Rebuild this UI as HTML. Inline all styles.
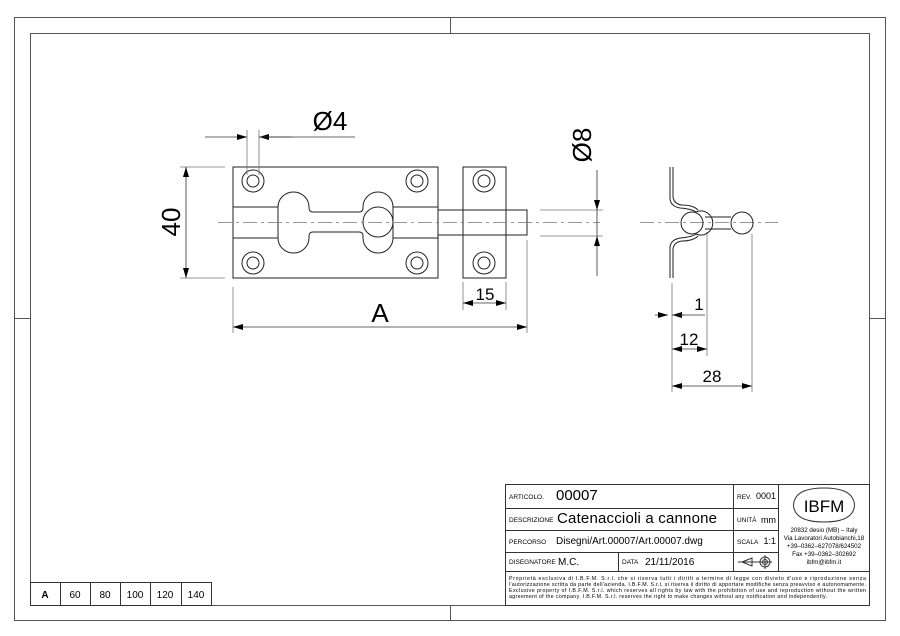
<!DOCTYPE html>
<html><head><meta charset="utf-8"><style>
html,body{margin:0;padding:0;background:#fff}
svg{display:block}
text{font-family:"Liberation Sans",sans-serif;fill:#000}
</style></head><body>
<svg width="900" height="636" viewBox="0 0 900 636" xmlns="http://www.w3.org/2000/svg">
<defs>
<marker id="ar" viewBox="0 0 10 6" refX="10" refY="3" markerWidth="10" markerHeight="6" orient="auto-start-reverse" markerUnits="userSpaceOnUse"><path d="M0,0 L10,3 L0,6 z" fill="#000"/></marker>
</defs>
<g fill="none" stroke="#555" stroke-width="1">
<rect x="14.5" y="17.5" width="871" height="603"/>
<rect x="30.5" y="33.5" width="839" height="572"/>
<line x1="450.5" y1="17" x2="450.5" y2="33"/>
<line x1="450.5" y1="605" x2="450.5" y2="621"/>
<line x1="14" y1="318.5" x2="30" y2="318.5"/>
<line x1="870" y1="318.5" x2="886" y2="318.5"/>
</g>
<g fill="none" stroke="#333" stroke-width="1">
<rect x="30.5" y="582.5" width="181" height="23"/>
<line x1="60.5" y1="582" x2="60.5" y2="606"/><line x1="90.5" y1="582" x2="90.5" y2="606"/>
<line x1="120.5" y1="582" x2="120.5" y2="606"/><line x1="150.5" y1="582" x2="150.5" y2="606"/>
<line x1="181.5" y1="582" x2="181.5" y2="606"/>
</g>
<g font-size="10" text-anchor="middle">
<text x="45" y="598" font-weight="bold">A</text><text x="75" y="598">60</text><text x="105" y="598">80</text>
<text x="135" y="598">100</text><text x="165" y="598">120</text><text x="196" y="598">140</text>
</g>
<g fill="none" stroke="#222" stroke-width="1">
<rect x="233" y="167" width="205" height="111"/>
<rect x="463" y="167" width="43" height="111"/>
<rect x="438" y="210" width="89" height="25"/>
<line x1="233" y1="207" x2="278" y2="207"/><line x1="233" y1="238" x2="278" y2="238"/>
<line x1="393" y1="207" x2="438" y2="207"/><line x1="393" y1="238" x2="438" y2="238"/>
<line x1="278" y1="207" x2="278" y2="238"/>
<path d="M278,207 A15.5,15 0 0 1 309,207 L309,208 Q309,212 313,212 L359,212 Q363,212 363,208 L363,207 A15,15 0 0 1 393,207 L393,238 A15,15 0 0 1 363,238 L363,236 Q363,232 359,232 L313,232 Q309,232 309,236 L309,238 A15.5,15 0 0 1 278,238"/>
<circle cx="378" cy="222" r="15"/>
<circle cx="253" cy="181" r="11"/><circle cx="253" cy="181" r="6"/>
<circle cx="417" cy="181" r="11"/><circle cx="417" cy="181" r="6"/>
<circle cx="253" cy="263" r="11"/><circle cx="253" cy="263" r="6"/>
<circle cx="417" cy="263" r="11"/><circle cx="417" cy="263" r="6"/>
<circle cx="484" cy="181" r="11"/><circle cx="484" cy="181" r="6"/>
<circle cx="484" cy="263" r="11"/><circle cx="484" cy="263" r="6"/>
</g>
<g stroke="#777" stroke-width="0.8" fill="none">
<line x1="218" y1="222.5" x2="600" y2="222.5" stroke-dasharray="14,4,3,4"/>
<line x1="640" y1="222.5" x2="778" y2="222.5" stroke-dasharray="14,4,3,4"/>
<line x1="247" y1="130" x2="247" y2="175"/><line x1="259" y1="130" x2="259" y2="175"/>
<line x1="180" y1="167" x2="225" y2="167"/><line x1="180" y1="278" x2="225" y2="278"/>
<line x1="233" y1="287" x2="233" y2="333"/><line x1="527" y1="240" x2="527" y2="333"/>
<line x1="463" y1="282" x2="463" y2="310"/><line x1="506" y1="282" x2="506" y2="310"/>
<line x1="540" y1="210" x2="603" y2="210"/><line x1="540" y1="236" x2="603" y2="236"/>
<line x1="672" y1="283" x2="672" y2="392"/><line x1="707" y1="232" x2="707" y2="356"/>
<line x1="752" y1="234" x2="752" y2="392"/>
</g>
<g stroke="#333" stroke-width="0.8" fill="none">
<line x1="205" y1="137" x2="247" y2="137" marker-end="url(#ar)"/>
<line x1="292" y1="137" x2="259" y2="137" marker-end="url(#ar)"/>
<line x1="259" y1="137" x2="355" y2="137"/>
<line x1="186" y1="167" x2="186" y2="278" marker-start="url(#ar)" marker-end="url(#ar)"/>
<line x1="233" y1="327" x2="527" y2="327" marker-start="url(#ar)" marker-end="url(#ar)"/>
<line x1="463" y1="303" x2="506" y2="303" marker-start="url(#ar)" marker-end="url(#ar)"/>
<line x1="597" y1="170" x2="597" y2="210" marker-end="url(#ar)"/>
<line x1="597" y1="276" x2="597" y2="236" marker-end="url(#ar)"/>
<line x1="597" y1="210" x2="597" y2="236"/>
<line x1="655" y1="315" x2="668" y2="315" marker-end="url(#ar)"/>
<line x1="685" y1="315" x2="672" y2="315" marker-end="url(#ar)"/>
<line x1="672" y1="315" x2="705" y2="315"/>
<line x1="672" y1="349" x2="707" y2="349" marker-start="url(#ar)" marker-end="url(#ar)"/>
<line x1="672" y1="386" x2="752" y2="386" marker-start="url(#ar)" marker-end="url(#ar)"/>
</g>
<g font-size="26">
<text x="330" y="130" text-anchor="middle">Ø4</text>
<text x="380" y="322" text-anchor="middle">A</text>
<text transform="translate(180,222) rotate(-90)" text-anchor="middle">40</text>
<text transform="translate(591,145) rotate(-90)" text-anchor="middle">Ø8</text>
</g>
<g font-size="17" text-anchor="middle">
<text x="485" y="300">15</text><text x="699" y="310">1</text>
<text x="689" y="345">12</text><text x="712" y="382">28</text>
</g>
<g fill="none" stroke="#222" stroke-width="1">
<path d="M670,167 L670,198 Q670,206 680,208 Q692,209 696,212"/>
<path d="M673,167 L673,197 Q674,204 682,205 Q693,205 698,210"/>
<path d="M670,278 L670,248 Q670,240 680,238 Q692,237 696,234"/>
<path d="M673,278 L673,249 Q674,242 682,241 Q693,241 698,236"/>
<path d="M696,212 A12,12 0 1 1 696,234"/>
<circle cx="692" cy="223" r="11"/>
<line x1="705" y1="217" x2="731" y2="217"/><line x1="705" y1="229" x2="731" y2="229"/>
<circle cx="742" cy="223" r="11"/>
</g>
<g fill="none" stroke="#333" stroke-width="1">
<rect x="505.5" y="484.5" width="364" height="121"/>
<line x1="505" y1="508.5" x2="778" y2="508.5"/>
<line x1="505" y1="530.5" x2="778" y2="530.5"/>
<line x1="505" y1="552.5" x2="778" y2="552.5"/>
<line x1="505" y1="571.5" x2="870" y2="571.5"/>
<line x1="733.5" y1="484" x2="733.5" y2="571"/>
<line x1="778.5" y1="484" x2="778.5" y2="571"/>
<line x1="618.5" y1="552" x2="618.5" y2="571"/>
<path d="M795,499 Q800,488 824,488 Q848,488 853,499 Q856,505 853,511 Q848,522 824,522 Q800,522 795,511 Q792,505 795,499 z"/>
<path d="M742,562 L752,558 L752,566 Z M738,562 L758,562"/>
<circle cx="765" cy="562" r="5"/><circle cx="765" cy="562" r="2.5"/>
<line x1="758" y1="562" x2="772" y2="562"/><line x1="765" y1="555" x2="765" y2="569"/>
</g>
<g font-size="6.5">
<text x="509" y="499">ARTICOLO.</text>
<text x="509" y="522">DESCRIZIONE</text>
<text x="509" y="544">PERCORSO</text>
<text x="509" y="564">DISEGNATORE</text>
<text x="622" y="564">DATA</text>
<text x="737" y="499">REV.</text>
<text x="737" y="522">UNITÀ</text>
<text x="737" y="544">SCALA</text>
</g>
<g font-size="15" fill="#000"><text x="556" y="500">00007</text>
<text x="557" y="523" textLength="160">Catenaccioli  a  cannone</text></g>
<g font-size="10"><text x="556" y="544">Disegni/Art.00007/Art.00007.dwg</text>
<text x="558" y="565">M.C.</text><text x="645" y="565">21/11/2016</text></g>
<g font-size="9" text-anchor="end"><text x="776" y="499">0001</text><text x="776" y="523">mm</text><text x="776" y="544">1:1</text></g>
<text x="824" y="512" font-size="17" text-anchor="middle" font-family="Liberation Serif">IBFM</text>
<g font-size="6.2" text-anchor="middle">
<text x="824" y="532">20832 desio (MB) – Italy</text>
<text x="824" y="540">Via Lavoratori Autobianchi,18</text>
<text x="824" y="548">+39–0362–627078/624502</text>
<text x="824" y="556">Fax +39–0362–302692</text>
<text x="824" y="564">ibfm@ibfm.it</text>
</g>
<g font-size="5.3">
<text x="509" y="580" textLength="357">Proprietà esclusiva di I.B.F.M. S.r.l. che si riserva tutti i diritti a termine di legge con divieto d'uso e riproduzione senza</text>
<text x="509" y="586" textLength="357">l'autorizzazione scritta da parte dell'azienda. I.B.F.M. S.r.l. si riserva il diritto di apportare modifiche senza preavviso e autonomamente.</text>
<text x="509" y="592" textLength="357">Exclusive property of I.B.F.M. S.r.l. which reserves all rights by law with the prohibition of use and reproduction without the written</text>
<text x="509" y="598" textLength="318">agreement of the company. I.B.F.M. S.r.l. reserves the right to make changes without any notification and independently.</text>
</g>
</svg>
</body></html>
